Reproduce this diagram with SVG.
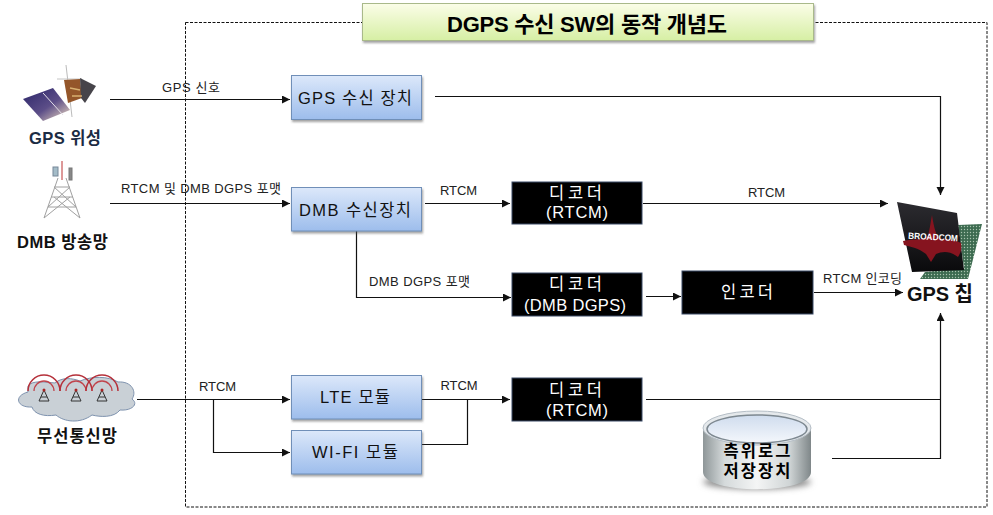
<svg xmlns="http://www.w3.org/2000/svg" width="993" height="515" viewBox="0 0 993 515">
<style>
text{font-family:"Liberation Sans","Noto Sans CJK KR",sans-serif;text-anchor:middle}
.ll{font-size:13px;fill:#222}
.nt{font-size:16.500px;fill:#111}
.dt{font-size:16.500px;fill:#fff}
.bl{font-size:16.500px;font-weight:700;fill:#111}
.ln{fill:none;stroke:#111;stroke-width:1.200}
.nb{fill:url(#blue);stroke:#6f8fb8;stroke-width:1;filter:url(#sh)}
.db{fill:#000;stroke:#3a4a66;stroke-width:1}
</style>
<defs>
<linearGradient id="blue" x1="0" y1="0" x2="0" y2="1"><stop offset="0" stop-color="#dce8fa"/><stop offset="1" stop-color="#9dbdec"/></linearGradient>
<linearGradient id="green" x1="0" y1="0" x2="0" y2="1"><stop offset="0" stop-color="#fbfde8"/><stop offset="1" stop-color="#d6efa4"/></linearGradient>
<linearGradient id="cyl" x1="0" y1="0" x2="1" y2="0"><stop offset="0" stop-color="#8e9698"/><stop offset=".2" stop-color="#d5dadb"/><stop offset=".5" stop-color="#f4f5f5"/><stop offset=".8" stop-color="#d0d5d6"/><stop offset="1" stop-color="#7f8789"/></linearGradient>
<linearGradient id="top" x1="0" y1="0" x2="0" y2="1"><stop offset="0" stop-color="#cfdcee"/><stop offset="1" stop-color="#f4f7fc"/></linearGradient>
<linearGradient id="panel" x1="0" y1="0" x2="1" y2="1"><stop offset="0" stop-color="#2a2468"/><stop offset=".55" stop-color="#5c4e88"/><stop offset="1" stop-color="#f4e0c4"/></linearGradient>
<linearGradient id="blk" x1="0" y1="0" x2="0" y2="1"><stop offset="0" stop-color="#2c2b30"/><stop offset="1" stop-color="#0a0a0c"/></linearGradient>
<pattern id="dots" width="3" height="3" patternUnits="userSpaceOnUse"><rect width="3" height="3" fill="#3d6b50"/><circle cx="1.500" cy="1.500" r=".7" fill="#a8c4ae"/></pattern>
<filter id="sh" x="-10%" y="-10%" width="120%" height="130%"><feDropShadow dx="1" dy="2" stdDeviation="1" flood-color="#555" flood-opacity=".55"/></filter>
<filter id="sh2" x="-10%" y="-20%" width="120%" height="170%"><feGaussianBlur stdDeviation="3"/></filter>
<marker id="ar" markerUnits="userSpaceOnUse" markerWidth="9" markerHeight="9" refX="8" refY="4" orient="auto"><path d="M0 0L8 4L0 8Z" fill="#111"/></marker>
<g id="tw"><path d="M-16 -3A16 16 0 0 1 16 -3" fill="none" stroke="#b5303a" stroke-width="1.500"/><path d="M-10 -3A10 10 0 0 1 10 -3" fill="none" stroke="#c0444c" stroke-width="1.300"/><path d="M0 -4L-5 7M0 -4L5 7M-3 3H3M-5 7H5" fill="none" stroke="#333" stroke-width="1"/><circle cy="-4" r="1.500" fill="#a22"/></g>
</defs>

<g id="frame"><rect x="185.500" y="22.500" width="801.500" height="484.500" fill="none" stroke="#111" stroke-width="1" stroke-dasharray="3 1.500"/></g>

<g id="connectors">
<path class="ln" marker-end="url(#ar)" d="M110 99.500H290"/>
<path class="ln" marker-end="url(#ar)" d="M110 203.500H290"/>
<path class="ln" marker-end="url(#ar)" d="M435 96.500H940.500V195"/>
<path class="ln" marker-end="url(#ar)" d="M425 203.500H510"/>
<path class="ln" marker-end="url(#ar)" d="M643 203.500H888"/>
<path class="ln" marker-end="url(#ar)" d="M356.500 231V297.500H511"/>
<path class="ln" marker-end="url(#ar)" d="M646 296.500H681"/>
<path class="ln" marker-end="url(#ar)" d="M814 292.500H903"/>
<path class="ln" marker-end="url(#ar)" d="M137 399.500H290"/>
<path class="ln" marker-end="url(#ar)" d="M213.500 399.500V452.500H290"/>
<path class="ln" marker-end="url(#ar)" d="M422 399.500H510"/>
<path class="ln" d="M422 444.500H467.500V399.500"/>
<path class="ln" d="M646 399.500H940.500"/>
<path class="ln" marker-end="url(#ar)" d="M832 458.500H940.500V313"/>
</g>

<g id="labels">
<text class="ll" x="191" y="92" textLength="58">GPS 신호</text>
<text class="ll" x="201" y="193" textLength="160">RTCM 및 DMB DGPS 포맷</text>
<text class="ll" x="458.500" y="195" textLength="37">RTCM</text>
<text class="ll" x="766.500" y="197" textLength="37">RTCM</text>
<text class="ll" x="419.500" y="286" textLength="101">DMB DGPS 포맷</text>
<text class="ll" x="862.500" y="283" textLength="79">RTCM 인코딩</text>
<text class="ll" x="217.500" y="391" textLength="37">RTCM</text>
<text class="ll" x="459" y="390" textLength="37">RTCM</text>
</g>

<g id="title"><rect x="362.500" y="3.500" width="451" height="37" fill="url(#green)" stroke="#a9b98a" filter="url(#sh)"/><text x="587" y="32" textLength="280" lengthAdjust="spacing" style="font-size:22px;font-weight:700;fill:#000">DGPS 수신 SW의 동작 개념도</text></g>

<g id="gps-device"><rect class="nb" x="291.500" y="75.500" width="130" height="44"/><text class="nt" x="355" y="104" textLength="114">GPS 수신 장치</text></g>
<g id="dmb-device"><rect class="nb" x="291.500" y="187.500" width="130" height="43.500"/><text class="nt" x="355" y="216" textLength="112">DMB 수신장치</text></g>
<g id="decoder-1"><rect class="db" x="512" y="182" width="130" height="42"/><text class="dt" x="575.500" y="199" textLength="53">디코더</text><text class="dt" x="577" y="218" textLength="62">(RTCM)</text></g>
<g id="decoder-2"><rect class="db" x="512" y="273" width="130" height="43"/><text class="dt" x="575.500" y="290" textLength="53">디코더</text><text class="dt" x="575" y="311" textLength="102">(DMB DGPS)</text></g>
<g id="encoder"><rect class="db" x="682" y="271" width="131" height="43"/><text class="dt" x="747" y="298" textLength="52">인코더</text></g>
<g id="decoder-3"><rect class="db" x="512" y="378" width="130" height="43"/><text class="dt" x="575.500" y="396" textLength="53">디코더</text><text class="dt" x="577" y="416" textLength="62">(RTCM)</text></g>
<g id="lte"><rect class="nb" x="291.500" y="375.500" width="130" height="43.500"/><text class="nt" x="355" y="403" textLength="70">LTE 모듈</text></g>
<g id="wifi"><rect class="nb" x="291.500" y="430.500" width="130" height="43.500"/><text class="nt" x="355" y="458" textLength="86">WI-FI 모듈</text></g>

<g id="satellite">
<path d="M23 99L53 88L70 110L43 121Z" fill="url(#panel)"/>
<path d="M43 93L63 115" stroke="#e4e0e8" stroke-width="1"/>
<path d="M66 65L72 117" stroke="#bbb" stroke-width="1"/>
<path d="M57 79H82" stroke="#c4c4c4" stroke-width="1"/>
<path d="M64 80L80 79L82 98L68 103Z" fill="#94562a"/>
<path d="M80 78L96 86L85 103L81 98Z" fill="#46444a"/>
<path d="M70 88L80 90M72 96L82 96" stroke="#d8b070" stroke-width="1.500"/>
<text class="bl" x="65" y="144" textLength="72" style="fill:#1c2c44">GPS 위성</text>
</g>
<g id="tower" fill="none" stroke="#a0a0a0" stroke-width="1">
<path d="M58 178L44 218M66 178L80 218M48 207H76M51 197H73M54 187H70M44 218L70 197M80 218L54 197M48 207L70 187M76 207L54 187"/>
<path d="M62 161V180" stroke="#b33"/><rect x="53" y="167" width="5" height="9" fill="#a4bcc8" stroke="#789"/><rect x="69" y="168" width="3" height="12" fill="#888" stroke="#777"/>
<text class="bl" x="62.500" y="248" stroke="none" textLength="91" style="fill:#111">DMB 방송망</text>
</g>
<g id="cloud">
<path d="M28 386C32 380 45 382 55 383C62 377 72 378 80 381C92 376 108 376 118 382C132 381 137 392 132 399C139 404 132 411 120 410C114 418 100 417 92 415C80 424 64 422 56 415C44 417 34 414 32 407C17 408 13 396 28 392Z" fill="#c9d0d6" stroke="#7e92ae" stroke-width="1"/>
<use href="#tw" x="44" y="394"/><use href="#tw" x="76" y="394"/><use href="#tw" x="102" y="394"/>
<text class="bl" x="77" y="442" textLength="80">무선통신망</text>
</g>
<g id="chip">
<path d="M958 225L982 224L968 279L920 279L925 272L964 268Z" fill="url(#dots)"/>
<path d="M897 202L957 213L964 270L912 272Z" fill="url(#blk)"/>
<path d="M903 241C915 238 922 241 928 236C930 228 931 220 932 215C933 222 935 232 938 238C946 240 952 238 961 243C962 250 960 254 958 257C948 250 942 252 936 254L931 262L926 254C918 248 912 247 904 245Z" fill="#86141f"/>
<text x="933" y="240" textLength="50" lengthAdjust="spacingAndGlyphs" transform="rotate(3 933 237)" style="font-size:9px;font-weight:700;fill:#fff">BROADCOM</text>
<text x="940" y="301" textLength="66" style="font-size:20px;font-weight:700;fill:#111">GPS 칩</text>
</g>
<g id="storage">
<ellipse cx="757" cy="482" rx="54" ry="7" fill="#888" filter="url(#sh2)"/>
<path d="M703 427V472C703 495 811 495 811 472V427Z" fill="url(#cyl)"/>
<ellipse cx="757" cy="428" rx="54" ry="17" fill="#e5e9ec" stroke="#b5bec6"/>
<ellipse cx="757" cy="429" rx="50" ry="14" fill="url(#top)" stroke="#7d8890" stroke-width="1.500"/>
<text class="bl" x="757" y="457" textLength="67" style="fill:#000">측위로그</text>
<text class="bl" x="757" y="477" textLength="67" style="fill:#000">저장장치</text>
</g>
</svg>
